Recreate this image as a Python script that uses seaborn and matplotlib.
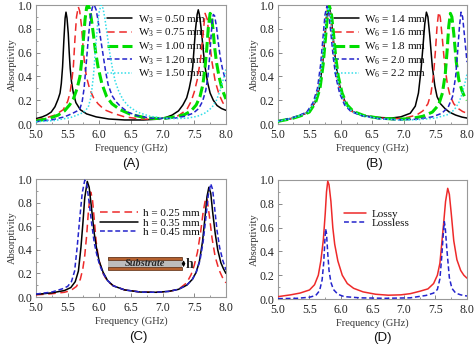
import matplotlib
matplotlib.use("Agg")
import matplotlib.pyplot as plt
import seaborn as sns
from matplotlib.patches import Rectangle
from matplotlib.ticker import MultipleLocator

# ---------------- Panel A : W3 sweep ----------------
A_labels = [r"W$_3$ = 0.50 mm", r"W$_3$ = 0.75 mm", r"W$_3$ = 1.00 mm",
            r"W$_3$ = 1.20 mm", r"W$_3$ = 1.50 mm"]
A1_f = [5.00, 5.10, 5.17, 5.24, 5.30, 5.35, 5.38, 5.40, 5.42, 5.44, 5.46, 5.474, 5.49, 5.51, 5.525,
        5.54, 5.56, 5.59, 5.63, 5.70, 5.80, 5.95, 6.15, 6.40, 6.70, 6.90, 7.05, 7.15, 7.25, 7.32,
        7.38, 7.42, 7.45, 7.475, 7.50, 7.52, 7.545, 7.563, 7.58, 7.60, 7.62, 7.645, 7.67, 7.71,
        7.75, 7.80, 7.86, 7.93, 8.00]
A1_a = [0.045, 0.060, 0.076, 0.10, 0.145, 0.21, 0.26, 0.34, 0.48, 0.70, 0.89, 0.94, 0.89, 0.76, 0.60,
        0.47, 0.36, 0.26, 0.18, 0.12, 0.085, 0.06, 0.042, 0.034, 0.034, 0.04, 0.055, 0.075, 0.11, 0.16,
        0.22, 0.30, 0.38, 0.48, 0.66, 0.80, 0.92, 0.96, 0.92, 0.84, 0.74, 0.60, 0.48, 0.35,
        0.26, 0.20, 0.155, 0.13, 0.115]
A2_f = [5.00, 5.15, 5.30, 5.43, 5.50, 5.537, 5.565, 5.59, 5.616, 5.64, 5.668, 5.69, 5.72, 5.745, 5.77,
        5.80, 5.85, 5.91, 5.98, 6.08, 6.22, 6.40, 6.65, 6.90, 7.10, 7.25, 7.38, 7.45, 7.50, 7.55,
        7.60, 7.64, 7.67, 7.705, 7.74, 7.78, 7.83, 7.89, 7.95, 8.00]
A2_a = [0.035, 0.05, 0.075, 0.12, 0.19, 0.26, 0.36, 0.48, 0.72, 0.90, 0.985, 0.95, 0.82, 0.64, 0.49,
        0.39, 0.29, 0.22, 0.17, 0.12, 0.09, 0.06, 0.042, 0.04, 0.05, 0.07, 0.12, 0.19, 0.27, 0.38,
        0.55, 0.76, 0.93, 0.88, 0.70, 0.52, 0.36, 0.25, 0.18, 0.14]
A3_f = [5.00, 5.20, 5.35, 5.45, 5.53, 5.59, 5.65, 5.695, 5.72, 5.747, 5.775, 5.80, 5.82, 5.845, 5.875,
        5.905, 5.94, 5.98, 6.04, 6.116, 6.20, 6.33, 6.50, 6.75, 7.00, 7.20, 7.35, 7.45, 7.53, 7.59,
        7.635, 7.665, 7.695, 7.72, 7.75, 7.77, 7.795, 7.82, 7.85, 7.89, 7.94, 8.00]
A3_a = [0.025, 0.045, 0.075, 0.11, 0.16, 0.21, 0.30, 0.40, 0.52, 0.70, 0.88, 0.98, 1.0, 0.97, 0.88,
        0.76, 0.61, 0.48, 0.34, 0.23, 0.17, 0.12, 0.08, 0.05, 0.045, 0.06, 0.08, 0.11, 0.16, 0.23,
        0.33, 0.45, 0.62, 0.80, 0.93, 0.91, 0.80, 0.65, 0.52, 0.40, 0.29, 0.21]
A4_f = [5.00, 5.25, 5.45, 5.58, 5.65, 5.695, 5.73, 5.76, 5.80, 5.83, 5.86, 5.89, 5.92, 5.95, 5.98,
        6.02, 6.063, 6.10, 6.14, 6.20, 6.26, 6.33, 6.45, 6.60, 6.80, 7.00, 7.20, 7.35, 7.48, 7.57,
        7.63, 7.68, 7.715, 7.74, 7.765, 7.785, 7.80, 7.82, 7.85, 7.88, 7.91, 7.95, 8.00]
A4_a = [0.02, 0.035, 0.06, 0.09, 0.11, 0.13, 0.19, 0.30, 0.55, 0.74, 0.90, 0.98, 1.0, 0.96, 0.87,
        0.72, 0.57, 0.44, 0.33, 0.24, 0.19, 0.15, 0.10, 0.07, 0.05, 0.045, 0.05, 0.065, 0.09, 0.13,
        0.19, 0.28, 0.40, 0.55, 0.74, 0.87, 0.92, 0.91, 0.82, 0.68, 0.56, 0.45, 0.36]
A5_f = [5.00, 5.30, 5.55, 5.70, 5.78, 5.83, 5.87, 5.91, 5.94, 5.97, 6.00, 6.03, 6.06, 6.09, 6.13,
        6.17, 6.21, 6.25, 6.31, 6.38, 6.46, 6.60, 6.80, 7.00, 7.20, 7.40, 7.55, 7.68, 7.78, 7.85,
        7.90, 7.95, 8.00]
A5_a = [0.018, 0.03, 0.055, 0.085, 0.11, 0.15, 0.23, 0.42, 0.63, 0.82, 0.95, 1.0, 0.97, 0.88, 0.73,
        0.58, 0.46, 0.36, 0.27, 0.20, 0.15, 0.10, 0.065, 0.05, 0.045, 0.05, 0.065, 0.095, 0.14, 0.20,
        0.27, 0.36, 0.46]

# ---------------- Panel B : W6 sweep ----------------
B_labels = [r"W$_6$ = 1.4 mm", r"W$_6$ = 1.6 mm", r"W$_6$ = 1.8 mm",
            r"W$_6$ = 2.0 mm", r"W$_6$ = 2.2 mm"]
B1_f = [5.00, 5.21, 5.36, 5.49, 5.59, 5.66, 5.71, 5.75, 5.78, 5.81, 5.84, 5.87, 5.91, 5.95, 6.01,
        6.09, 6.19, 6.36, 6.60, 6.80, 6.95, 7.10, 7.18, 7.23, 7.27, 7.30, 7.33, 7.356, 7.38, 7.41,
        7.45, 7.49, 7.525, 7.58, 7.65, 7.72, 7.82, 7.92, 8.00]
B1_a = [0.022, 0.045, 0.07, 0.10, 0.18, 0.30, 0.50, 0.74, 0.92, 0.99, 0.93, 0.78, 0.56, 0.40, 0.26,
        0.16, 0.105, 0.07, 0.055, 0.05, 0.06, 0.09, 0.15, 0.26, 0.45, 0.64, 0.84, 0.94, 0.90, 0.74,
        0.48, 0.32, 0.23, 0.17, 0.13, 0.10, 0.075, 0.058, 0.05]
B2_f = [5.00, 5.20, 5.35, 5.48, 5.58, 5.65, 5.70, 5.74, 5.77, 5.80, 5.83, 5.86, 5.90, 5.94, 6.00,
        6.08, 6.18, 6.35, 6.60, 6.90, 7.05, 7.20, 7.30, 7.38, 7.43, 7.47, 7.50, 7.525, 7.55, 7.575,
        7.605, 7.645, 7.69, 7.73, 7.79, 7.86, 7.93, 8.00]
B2_a = [0.022, 0.045, 0.07, 0.10, 0.18, 0.30, 0.50, 0.74, 0.92, 0.99, 0.93, 0.78, 0.56, 0.40, 0.26,
        0.16, 0.105, 0.07, 0.05, 0.045, 0.055, 0.075, 0.11, 0.17, 0.26, 0.42, 0.62, 0.82, 0.94, 0.90,
        0.74, 0.50, 0.33, 0.24, 0.17, 0.13, 0.105, 0.09]
B3_f = [5.00, 5.22, 5.37, 5.50, 5.60, 5.67, 5.72, 5.76, 5.79, 5.82, 5.85, 5.88, 5.92, 5.96, 6.02,
        6.10, 6.20, 6.37, 6.60, 6.90, 7.10, 7.30, 7.45, 7.55, 7.61, 7.655, 7.685, 7.71, 7.736, 7.76,
        7.79, 7.83, 7.87, 7.92, 7.96, 8.00]
B3_a = [0.022, 0.045, 0.07, 0.10, 0.18, 0.30, 0.50, 0.74, 0.92, 0.99, 0.93, 0.78, 0.56, 0.40, 0.26,
        0.16, 0.105, 0.07, 0.05, 0.04, 0.045, 0.065, 0.10, 0.16, 0.26, 0.42, 0.62, 0.82, 0.93, 0.90,
        0.76, 0.52, 0.37, 0.28, 0.23, 0.20]
B4_f = [5.00, 5.18, 5.33, 5.46, 5.56, 5.63, 5.68, 5.72, 5.75, 5.78, 5.81, 5.84, 5.88, 5.92, 5.98,
        6.06, 6.16, 6.33, 6.60, 6.90, 7.20, 7.45, 7.60, 7.70, 7.77, 7.82, 7.85, 7.88, 7.905, 7.93,
        7.96, 8.00]
B4_a = [0.025, 0.045, 0.07, 0.10, 0.18, 0.30, 0.50, 0.74, 0.92, 0.99, 0.93, 0.78, 0.56, 0.40, 0.26,
        0.16, 0.105, 0.07, 0.045, 0.035, 0.04, 0.06, 0.09, 0.14, 0.23, 0.40, 0.60, 0.82, 0.94, 0.90,
        0.74, 0.52]
B5_f = [5.00, 5.20, 5.35, 5.48, 5.58, 5.65, 5.70, 5.74, 5.77, 5.80, 5.83, 5.86, 5.90, 5.94, 6.00,
        6.08, 6.18, 6.35, 6.60, 6.90, 7.20, 7.50, 7.70, 7.80, 7.87, 7.92, 7.96, 8.00]
B5_a = [0.022, 0.045, 0.07, 0.10, 0.18, 0.30, 0.50, 0.74, 0.92, 0.98, 0.93, 0.78, 0.56, 0.40, 0.26,
        0.16, 0.105, 0.07, 0.045, 0.035, 0.035, 0.05, 0.08, 0.12, 0.18, 0.25, 0.33, 0.42]

# ---------------- Panel C : substrate thickness ----------------
C_labels = ["h = 0.25 mm", "h = 0.35 mm", "h = 0.45 mm"]
C1_f = [5.00, 5.25, 5.45, 5.55, 5.64, 5.70, 5.74, 5.77, 5.80, 5.83, 5.863, 5.89, 5.92, 5.95, 5.99,
        6.05, 6.12, 6.22, 6.40, 6.65, 6.90, 7.10, 7.25, 7.38, 7.45, 7.50, 7.55, 7.60, 7.64, 7.68,
        7.705, 7.74, 7.78, 7.83, 7.89, 7.95, 8.00]
C1_a = [0.018, 0.028, 0.04, 0.055, 0.09, 0.15, 0.24, 0.35, 0.52, 0.74, 0.89, 0.84, 0.66, 0.47, 0.32,
        0.21, 0.14, 0.095, 0.06, 0.042, 0.04, 0.048, 0.065, 0.12, 0.19, 0.27, 0.38, 0.55, 0.72, 0.84,
        0.82, 0.68, 0.50, 0.34, 0.23, 0.16, 0.12]
C2_f = [5.00, 5.25, 5.45, 5.55, 5.62, 5.67, 5.71, 5.74, 5.77, 5.81, 5.84, 5.88, 5.92, 5.96, 6.00,
        6.06, 6.13, 6.22, 6.40, 6.65, 6.90, 7.10, 7.25, 7.38, 7.47, 7.53, 7.58, 7.63, 7.67, 7.70,
        7.73, 7.76, 7.79, 7.83, 7.87, 7.92, 7.96, 8.00]
C2_a = [0.022, 0.035, 0.055, 0.08, 0.13, 0.22, 0.42, 0.62, 0.84, 0.98, 0.93, 0.74, 0.54, 0.40, 0.30,
        0.21, 0.14, 0.095, 0.06, 0.042, 0.04, 0.048, 0.065, 0.10, 0.15, 0.21, 0.30, 0.47, 0.68, 0.85,
        0.93, 0.88, 0.72, 0.54, 0.40, 0.29, 0.24, 0.20]
C3_f = [5.00, 5.25, 5.42, 5.50, 5.56, 5.61, 5.65, 5.69, 5.73, 5.77, 5.80, 5.84, 5.88, 5.92, 5.96,
        6.00, 6.06, 6.13, 6.22, 6.40, 6.65, 6.90, 7.10, 7.25, 7.38, 7.47, 7.53, 7.59, 7.64, 7.68,
        7.72, 7.76, 7.79, 7.82, 7.86, 7.90, 7.95, 8.00]
C3_a = [0.025, 0.042, 0.07, 0.09, 0.13, 0.22, 0.42, 0.66, 0.88, 0.99, 0.96, 0.80, 0.62, 0.46, 0.36,
        0.28, 0.20, 0.14, 0.095, 0.06, 0.042, 0.04, 0.048, 0.065, 0.10, 0.15, 0.21, 0.31, 0.47, 0.66,
        0.86, 0.96, 0.91, 0.76, 0.56, 0.42, 0.31, 0.23]

# ---------------- Panel D : lossy vs lossless ----------------
D_labels = ["Lossy", "Lossless"]
D1_f = [5.00, 5.20, 5.35, 5.50, 5.58, 5.64, 5.68, 5.72, 5.75, 5.77, 5.79, 5.81, 5.84, 5.87, 5.90,
        5.95, 6.02, 6.10, 6.20, 6.35, 6.55, 6.75, 6.95, 7.10, 7.25, 7.38, 7.47, 7.53, 7.57, 7.60,
        7.63, 7.66, 7.694, 7.72, 7.75, 7.79, 7.84, 7.90, 7.95, 8.00]
D1_a = [0.02, 0.035, 0.05, 0.076, 0.12, 0.20, 0.32, 0.50, 0.72, 0.90, 0.99, 0.96, 0.82, 0.60, 0.46,
        0.32, 0.20, 0.13, 0.09, 0.06, 0.04, 0.032, 0.035, 0.045, 0.065, 0.085, 0.13, 0.20, 0.30, 0.47,
        0.64, 0.82, 0.93, 0.88, 0.72, 0.49, 0.33, 0.24, 0.20, 0.175]
D2_f = [5.00, 5.30, 5.50, 5.60, 5.66, 5.70, 5.725, 5.745, 5.755, 5.77, 5.79, 5.81, 5.84, 5.88, 5.95,
        6.05, 6.30, 6.70, 7.10, 7.35, 7.47, 7.53, 7.57, 7.60, 7.625, 7.64, 7.655, 7.68, 7.70, 7.72,
        7.76, 7.82, 7.90, 8.00]
D2_a = [0.003, 0.006, 0.015, 0.03, 0.07, 0.16, 0.30, 0.50, 0.59, 0.55, 0.38, 0.24, 0.14, 0.08, 0.04,
        0.02, 0.01, 0.006, 0.01, 0.03, 0.05, 0.08, 0.17, 0.36, 0.56, 0.65, 0.60, 0.42, 0.30, 0.18,
        0.09, 0.05, 0.035, 0.025]

x_ticks = [5.0, 5.5, 6.0, 6.5, 7.0, 7.5, 8.0]
y_ticks = [0.0, 0.2, 0.4, 0.6, 0.8, 1.0]

# ---------------- styling ----------------
sns.set_theme(style="ticks")
plt.rcParams['font.family'] = ['Liberation Serif', 'DejaVu Serif']
plt.rcParams['mathtext.fontset'] = 'custom'
plt.rcParams['mathtext.rm'] = 'Liberation Serif'
plt.rcParams['mathtext.it'] = 'Liberation Serif:italic'
plt.rcParams['mathtext.bf'] = 'Liberation Serif:bold'

RED = '#ee2a2a'
GREEN = '#00dd00'
BLUE = '#2424cc'
CYAN = '#33dde8'
BLACK = '#000000'

styles = [
    dict(color=BLACK, lw=1.1, ls='-'),
    dict(color=RED, lw=1.1, ls=(0, (5, 3))),
    dict(color=GREEN, lw=2.2, ls=(0, (3.5, 1.4))),
    dict(color=BLUE, lw=1.1, ls=(0, (3.2, 1.8))),
    dict(color=CYAN, lw=1.1, ls=(0, (1, 1.3))),
]

fig = plt.figure(figsize=(4.74, 3.46), dpi=100)
axA = fig.add_axes([0.0759, 0.6416, 0.4008, 0.3439])
axB = fig.add_axes([0.5859, 0.6416, 0.3994, 0.3439])
axC = fig.add_axes([0.0759, 0.1416, 0.4008, 0.3410])
axD = fig.add_axes([0.5865, 0.1358, 0.3987, 0.3440])


def draw(ax, f, a, st, label):
    sns.lineplot(x=f, y=a, ax=ax, color=st['color'], linewidth=st['lw'],
                 linestyle=st['ls'], label=label, sort=False, estimator=None, zorder=3)


def style_axes(ax):
    ax.set_xlim(5.0, 8.0)
    ax.set_ylim(0.0, 1.0)
    ax.set_xticks(x_ticks)
    ax.set_xticklabels([f"{v:.1f}" for v in x_ticks])
    ax.set_yticks(y_ticks)
    ax.set_yticklabels([f"{v:.1f}" for v in y_ticks])
    ax.xaxis.set_minor_locator(MultipleLocator(0.25))
    ax.yaxis.set_minor_locator(MultipleLocator(0.1))
    ax.tick_params(which='both', direction='in', color='#888888', labelsize=8.5,
                   labelcolor='#222222')
    ax.tick_params(axis='x', which='both', pad=3.5)
    ax.tick_params(axis='y', which='both', pad=2.5)
    ax.tick_params(which='major', length=3, width=0.7)
    ax.tick_params(which='minor', length=1.5, width=0.6)
    for s in ax.spines.values():
        s.set_visible(True)
        s.set_color('#999999')
        s.set_linewidth(0.8)
    ax.set_xlabel("Frequency (GHz)", fontsize=7.5, color='#333333', labelpad=1.5)
    ax.set_ylabel("Absorptivity", fontsize=7.5, color='#333333', labelpad=0.5)


def legend(ax, x, y, hl, spacing):
    leg = ax.legend(loc='upper left', bbox_to_anchor=(x, y), frameon=False, fontsize=8,
                    handlelength=hl, handletextpad=0.5, labelspacing=spacing,
                    borderpad=0, borderaxespad=0)
    leg.set_zorder(1)
    for t in leg.get_texts():
        t.set_color('#111111')


for (f, a), st, lab in zip([(A1_f, A1_a), (A2_f, A2_a), (A3_f, A3_a), (A4_f, A4_a), (A5_f, A5_a)],
                           styles, A_labels):
    draw(axA, f, a, st, lab)
style_axes(axA)
legend(axA, 0.374, 0.93, 2.25, 0.1)

for (f, a), st, lab in zip([(B1_f, B1_a), (B2_f, B2_a), (B3_f, B3_a), (B4_f, B4_a), (B5_f, B5_a)],
                           styles, B_labels):
    draw(axB, f, a, st, lab)
style_axes(axB)
legend(axB, 0.296, 0.93, 2.25, 0.1)

C_styles = [dict(color=RED, lw=1.1, ls=(0, (5, 3))),
            dict(color=BLACK, lw=1.1, ls='-'),
            dict(color=BLUE, lw=1.1, ls=(0, (3.2, 1.8)))]
for (f, a), st, lab in zip([(C1_f, C1_a), (C2_f, C2_a), (C3_f, C3_a)], C_styles, C_labels):
    draw(axC, f, a, st, lab)
style_axes(axC)
legend(axC, 0.337, 0.75, 3.4, -0.05)

# substrate inset
axC.add_patch(Rectangle((6.13, 0.23), 1.17, 0.105, facecolor='#bdbdbd', edgecolor='none', zorder=4))
axC.add_patch(Rectangle((6.13, 0.310), 1.17, 0.025, facecolor='#b4602e', edgecolor='#5a2a10',
                        linewidth=0.5, zorder=5))
axC.add_patch(Rectangle((6.13, 0.23), 1.17, 0.025, facecolor='#b4602e', edgecolor='#5a2a10',
                        linewidth=0.5, zorder=5))
axC.text(6.715, 0.283, "Substrate", ha='center', va='center', fontsize=7.5,
         fontweight='bold', fontstyle='italic', zorder=6)
axC.annotate('', xy=(7.33, 0.228), xytext=(7.33, 0.337),
             arrowprops=dict(arrowstyle='<|-|>', lw=0.9, color='black', mutation_scale=4),
             zorder=6)
axC.text(7.43, 0.275, "h", ha='center', va='center', fontsize=10, fontweight='bold', zorder=6)

D_styles = [dict(color=RED, lw=1.1, ls='-'),
            dict(color=BLUE, lw=1.1, ls=(0, (3.2, 1.8)))]
for (f, a), st, lab in zip([(D1_f, D1_a), (D2_f, D2_a)], D_styles, D_labels):
    draw(axD, f, a, st, lab)
style_axes(axD)
legend(axD, 0.348, 0.757, 2.0, -0.05)

for txt, x, y in [("(A)", 0.2764, 0.526), ("(B)", 0.790, 0.526),
                  ("(C)", 0.291, 0.026), ("(D)", 0.807, 0.023)]:
    fig.text(x, y, txt, ha='center', va='center', fontsize=9.5,
             family=['Liberation Sans', 'DejaVu Sans'], color='#111111')

fig.savefig("out.png", dpi=100)
